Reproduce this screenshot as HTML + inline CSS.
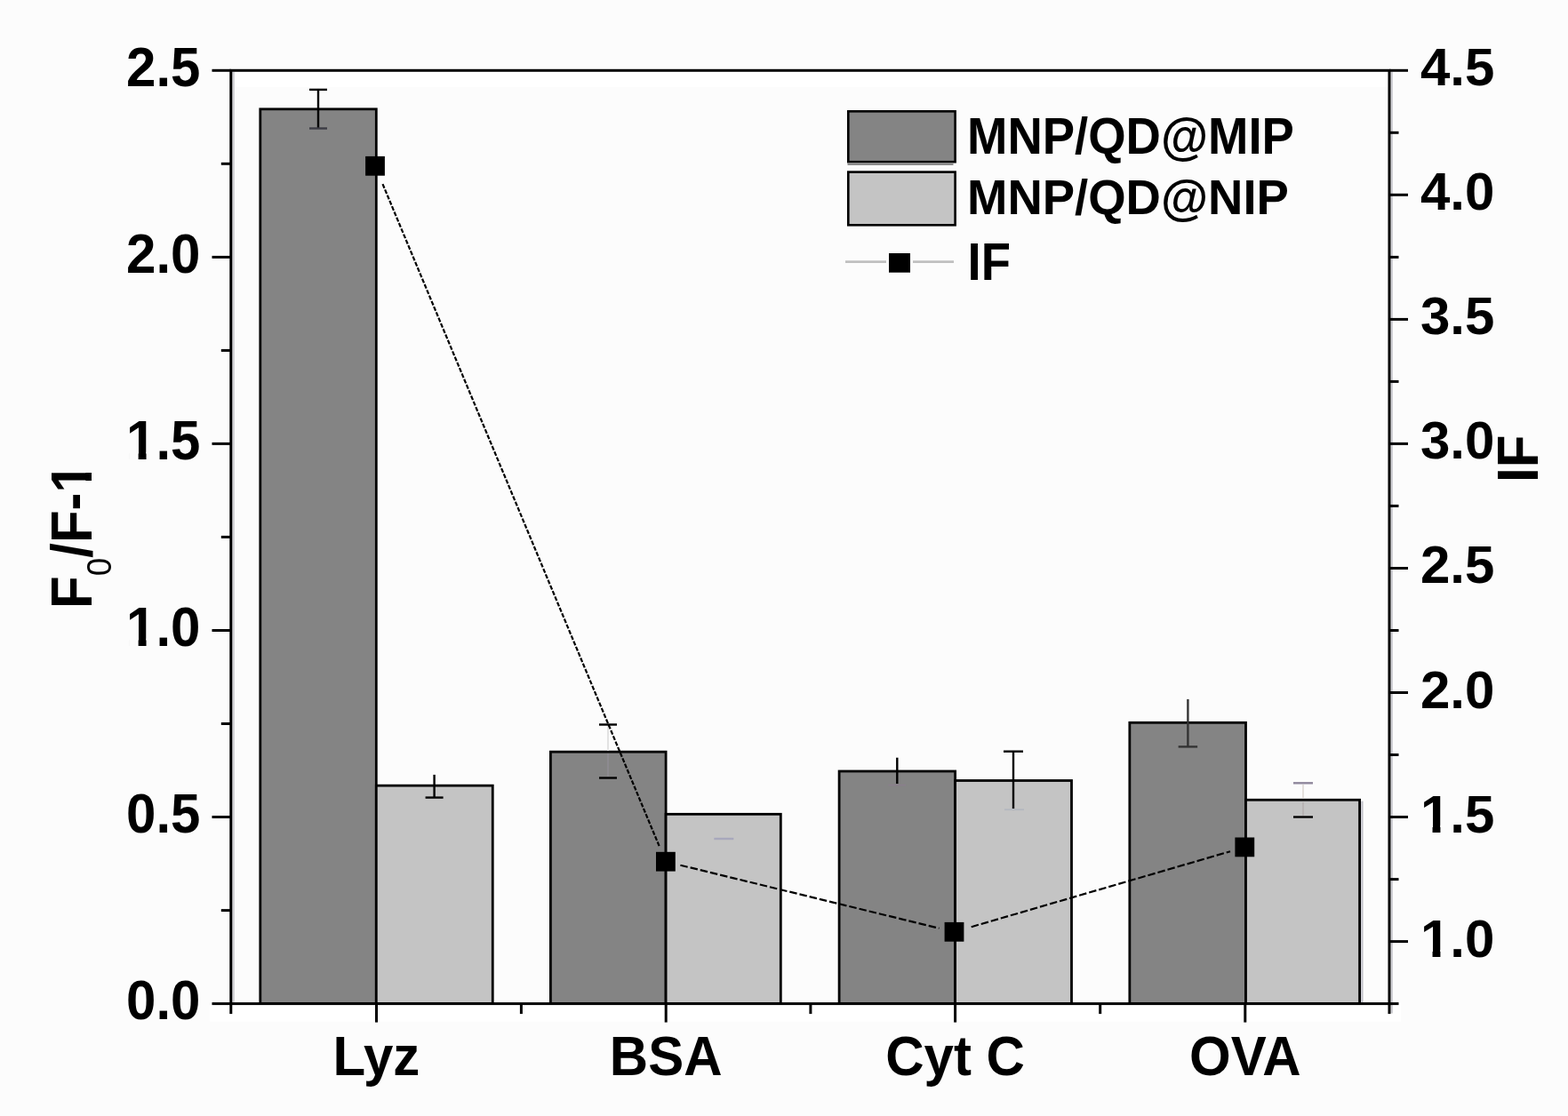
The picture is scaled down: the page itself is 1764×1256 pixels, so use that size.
<!DOCTYPE html>
<html><head><meta charset="utf-8"><title>Chart</title>
<style>html,body{margin:0;padding:0;background:#fff;overflow:hidden}svg{display:block}</style>
</head><body>
<svg width="1764" height="1256" viewBox="0 0 1764 1256"><rect x="0" y="0" width="1764" height="1256" fill="#fcfcfc"/>
<rect x="261" y="81" width="1301" height="17" fill="#ffffff"/>
<rect x="236" y="1131" width="1340" height="18.5" fill="#ffffff"/>
<rect x="292.80" y="122.80" width="130.50" height="1006.80" fill="#848484" stroke="#000" stroke-width="2.8"/>
<rect x="619.40" y="846.15" width="129.70" height="283.45" fill="#848484" stroke="#000" stroke-width="2.8"/>
<rect x="944.10" y="868.00" width="130.50" height="261.60" fill="#848484" stroke="#000" stroke-width="2.8"/>
<rect x="1270.85" y="813.30" width="130.65" height="316.30" fill="#848484" stroke="#000" stroke-width="2.8"/>
<rect x="423.30" y="884.15" width="130.95" height="245.45" fill="#c4c4c4" stroke="#000" stroke-width="2.8"/>
<rect x="749.10" y="916.30" width="129.20" height="213.30" fill="#c4c4c4" stroke="#000" stroke-width="2.8"/>
<rect x="1074.60" y="878.50" width="130.90" height="251.10" fill="#c4c4c4" stroke="#000" stroke-width="2.8"/>
<rect x="1401.50" y="900.25" width="128.10" height="229.35" fill="#c4c4c4" stroke="#000" stroke-width="2.8"/>
<line x1="358.0" y1="100.9" x2="358.0" y2="144.5" stroke="#000" stroke-width="2.4"/><line x1="348.0" y1="100.9" x2="368.0" y2="100.9" stroke="#000" stroke-width="2.4"/><line x1="348.0" y1="144.5" x2="368.0" y2="144.5" stroke="#3c3c44" stroke-width="2.4"/>
<line x1="488.6" y1="871.9" x2="488.6" y2="897.6" stroke="#000" stroke-width="2.4"/><line x1="478.6" y1="897.6" x2="498.6" y2="897.6" stroke="#000" stroke-width="2.4"/>
<line x1="674.0" y1="815.5" x2="694.0" y2="815.5" stroke="#000" stroke-width="2.4"/><line x1="674.0" y1="875.5" x2="694.0" y2="875.5" stroke="#000" stroke-width="2.4"/>
<line x1="684.0" y1="817" x2="684.0" y2="845" stroke="#e2e2e2" stroke-width="2"/>
<line x1="684.0" y1="848" x2="684.0" y2="874" stroke="#8d8a90" stroke-width="2"/>
<line x1="803.3" y1="944.0" x2="825.3" y2="944.0" stroke="#a8a8bc" stroke-width="2.4"/>
<line x1="1009.3" y1="852.7" x2="1009.3" y2="882.0" stroke="#000" stroke-width="2.4"/>
<line x1="999.5" y1="883.6" x2="1019" y2="883.6" stroke="#8a7f8c" stroke-width="1.6"/>
<line x1="1140.0" y1="845.7" x2="1140.0" y2="910.0" stroke="#000" stroke-width="2.4"/><line x1="1129.0" y1="845.7" x2="1151.0" y2="845.7" stroke="#000" stroke-width="2.4"/>
<line x1="1130" y1="911.2" x2="1152" y2="911.2" stroke="#b4b8bf" stroke-width="1.8"/>
<line x1="1336.4" y1="786.9" x2="1336.4" y2="840.4" stroke="#333333" stroke-width="2.4"/><line x1="1325.65" y1="840.4" x2="1347.15" y2="840.4" stroke="#333333" stroke-width="2.4"/>
<line x1="1455.0" y1="881.3" x2="1477.0" y2="881.3" stroke="#8f879c" stroke-width="2.4"/><line x1="1455.0" y1="919.5" x2="1477.0" y2="919.5" stroke="#000" stroke-width="2.4"/>
<line x1="1466" y1="883" x2="1466" y2="898" stroke="#e4e0dc" stroke-width="2"/>
<line x1="1466" y1="903" x2="1466" y2="918" stroke="#b8b4b4" stroke-width="2"/>
<line x1="262.6" y1="80.8" x2="262.6" y2="1128.1" stroke="#d2d2d6" stroke-width="2.6"/>
<line x1="1565.8" y1="80.8" x2="1565.8" y2="1140.6" stroke="#cfcfd4" stroke-width="2.4"/>
<line x1="1532.4" y1="901.65" x2="1532.4" y2="1128.1" stroke="#c4c4cc" stroke-width="2.4"/>
<rect x="259.8" y="79.3" width="1303.2" height="1050.3" fill="none" stroke="#000" stroke-width="3.0"/>
<line x1="238.5" y1="1129.6" x2="259.8" y2="1129.6" stroke="#000" stroke-width="3.0"/><line x1="248.8" y1="1024.6" x2="259.8" y2="1024.6" stroke="#000" stroke-width="3.0"/><line x1="238.5" y1="919.5" x2="259.8" y2="919.5" stroke="#000" stroke-width="3.0"/><line x1="248.8" y1="814.5" x2="259.8" y2="814.5" stroke="#000" stroke-width="3.0"/><line x1="238.5" y1="709.5" x2="259.8" y2="709.5" stroke="#000" stroke-width="3.0"/><line x1="248.8" y1="604.4" x2="259.8" y2="604.4" stroke="#000" stroke-width="3.0"/><line x1="238.5" y1="499.4" x2="259.8" y2="499.4" stroke="#000" stroke-width="3.0"/><line x1="248.8" y1="394.4" x2="259.8" y2="394.4" stroke="#000" stroke-width="3.0"/><line x1="238.5" y1="289.4" x2="259.8" y2="289.4" stroke="#000" stroke-width="3.0"/><line x1="248.8" y1="184.3" x2="259.8" y2="184.3" stroke="#000" stroke-width="3.0"/><line x1="238.5" y1="79.3" x2="259.8" y2="79.3" stroke="#000" stroke-width="3.0"/><line x1="1563.0" y1="1129.6" x2="1573.5" y2="1129.6" stroke="#000" stroke-width="3.0"/><line x1="1563.0" y1="1059.6" x2="1584.0" y2="1059.6" stroke="#000" stroke-width="3.0"/><line x1="1563.0" y1="989.6" x2="1573.5" y2="989.6" stroke="#000" stroke-width="3.0"/><line x1="1563.0" y1="919.5" x2="1584.0" y2="919.5" stroke="#000" stroke-width="3.0"/><line x1="1563.0" y1="849.5" x2="1573.5" y2="849.5" stroke="#000" stroke-width="3.0"/><line x1="1563.0" y1="779.5" x2="1584.0" y2="779.5" stroke="#000" stroke-width="3.0"/><line x1="1563.0" y1="709.5" x2="1573.5" y2="709.5" stroke="#000" stroke-width="3.0"/><line x1="1563.0" y1="639.5" x2="1584.0" y2="639.5" stroke="#000" stroke-width="3.0"/><line x1="1563.0" y1="569.4" x2="1573.5" y2="569.4" stroke="#000" stroke-width="3.0"/><line x1="1563.0" y1="499.4" x2="1584.0" y2="499.4" stroke="#000" stroke-width="3.0"/><line x1="1563.0" y1="429.4" x2="1573.5" y2="429.4" stroke="#000" stroke-width="3.0"/><line x1="1563.0" y1="359.4" x2="1584.0" y2="359.4" stroke="#000" stroke-width="3.0"/><line x1="1563.0" y1="289.4" x2="1573.5" y2="289.4" stroke="#000" stroke-width="3.0"/><line x1="1563.0" y1="219.3" x2="1584.0" y2="219.3" stroke="#000" stroke-width="3.0"/><line x1="1563.0" y1="149.3" x2="1573.5" y2="149.3" stroke="#000" stroke-width="3.0"/><line x1="1563.0" y1="79.3" x2="1584.0" y2="79.3" stroke="#000" stroke-width="3.0"/><line x1="423.5" y1="1129.6" x2="423.5" y2="1150.6" stroke="#000" stroke-width="3.0"/><line x1="749.2" y1="1129.6" x2="749.2" y2="1150.6" stroke="#000" stroke-width="3.0"/><line x1="1074.6" y1="1129.6" x2="1074.6" y2="1150.6" stroke="#000" stroke-width="3.0"/><line x1="1400.8" y1="1129.6" x2="1400.8" y2="1150.6" stroke="#000" stroke-width="3.0"/><line x1="259.8" y1="1129.6" x2="259.8" y2="1141.1" stroke="#000" stroke-width="3.0"/><line x1="586.4" y1="1129.6" x2="586.4" y2="1141.1" stroke="#000" stroke-width="3.0"/><line x1="911.9" y1="1129.6" x2="911.9" y2="1141.1" stroke="#000" stroke-width="3.0"/><line x1="1237.7" y1="1129.6" x2="1237.7" y2="1141.1" stroke="#000" stroke-width="3.0"/><line x1="1563.0" y1="1129.6" x2="1563.0" y2="1141.1" stroke="#000" stroke-width="3.0"/>
<line x1="430.5" y1="207.1" x2="742.0" y2="953.1" stroke="#000" stroke-width="2.2" stroke-dasharray="5 1.8"/>
<line x1="765.4" y1="973.7" x2="1056.5" y2="1044.7" stroke="#000" stroke-width="2.2" stroke-dasharray="8.5 3"/>
<line x1="1092.7" y1="1043.2" x2="1384.0" y2="958.2" stroke="#000" stroke-width="2.2" stroke-dasharray="8.5 3"/>
<rect x="411.1" y="175.9" width="21.8" height="21.8" fill="#000"/>
<rect x="738.0" y="958.8" width="21.8" height="21.8" fill="#000"/>
<rect x="1062.6" y="1037.9" width="21.8" height="21.8" fill="#000"/>
<rect x="1389.4" y="942.5" width="21.8" height="21.8" fill="#000"/>
<g font-family="'Liberation Sans', Arial, Helvetica, sans-serif" font-weight="bold" font-size="60" fill="#000"><text x="142.10" y="1147.00" transform="matrix(1 0 0 1.06 0 -68.820)">0.0</text><text x="142.10" y="936.94" transform="matrix(1 0 0 1.06 0 -56.216)">0.5</text><text x="142.10" y="726.88" clip-path="url(#c1_1)" transform="matrix(1 0 0 1.06 0 -43.613)">1.0</text><text x="142.10" y="516.82" clip-path="url(#c1_2)" transform="matrix(1 0 0 1.06 0 -31.009)">1.5</text><text x="142.10" y="306.76" transform="matrix(1 0 0 1.06 0 -18.406)">2.0</text><text x="142.10" y="96.70" transform="matrix(1 0 0 1.06 0 -5.802)">2.5</text><text x="1598.00" y="1076.58" clip-path="url(#c1_3)">1.0</text><text x="1598.00" y="936.54" clip-path="url(#c1_4)">1.5</text><text x="1598.00" y="796.50">2.0</text><text x="1598.00" y="656.46">2.5</text><text x="1598.00" y="516.42">3.0</text><text x="1598.00" y="376.38">3.5</text><text x="1598.00" y="236.34">4.0</text><text x="1598.00" y="96.30">4.5</text><text x="423.5" y="1210" text-anchor="middle" transform="matrix(1 0 0 1.05 0 -60.500)">Lyz</text><text x="749.2" y="1210" text-anchor="middle" transform="matrix(1 0 0 1.05 0 -60.500)">BSA</text><text x="1074.6" y="1210" text-anchor="middle" transform="matrix(1 0 0 1.05 0 -60.500)">Cyt C</text><text x="1400.8" y="1210" text-anchor="middle" transform="matrix(1 0 0 1.05 0 -60.500)">OVA</text></g>
<g font-family="'Liberation Sans', Arial, Helvetica, sans-serif" font-weight="bold" fill="#000" font-size="60"><g transform="translate(103,685) rotate(-90) scale(1,1.065)"><text x="0" y="0" clip-path="url(#c1_5)">F<tspan font-size="37" font-weight="normal" dy="20.3">0</tspan><tspan dy="-20.3">/F-1</tspan></text></g><g transform="translate(1730,543) rotate(-90) scale(1,1.07)"><text x="0" y="0">IF</text></g></g>
<defs><clipPath id="c1_1" clipPathUnits="userSpaceOnUse"><rect x="-1857.90" y="648.88" width="4000" height="70.32"/><rect x="-1857.90" y="718.20" width="2003.00" height="54.00"/><rect x="155.66" y="718.20" width="8.88" height="30.00"/><rect x="174.80" y="718.20" width="103.40" height="54.00"/></clipPath><clipPath id="c1_2" clipPathUnits="userSpaceOnUse"><rect x="-1857.90" y="438.82" width="4000" height="70.32"/><rect x="-1857.90" y="508.14" width="2003.00" height="54.00"/><rect x="155.66" y="508.14" width="8.88" height="30.00"/><rect x="174.80" y="508.14" width="103.40" height="54.00"/></clipPath><clipPath id="c1_3" clipPathUnits="userSpaceOnUse"><rect x="-402.00" y="998.58" width="4000" height="70.32"/><rect x="-402.00" y="1067.90" width="2003.00" height="54.00"/><rect x="1611.56" y="1067.90" width="8.88" height="30.00"/><rect x="1630.70" y="1067.90" width="103.40" height="54.00"/></clipPath><clipPath id="c1_4" clipPathUnits="userSpaceOnUse"><rect x="-402.00" y="858.54" width="4000" height="70.32"/><rect x="-402.00" y="927.86" width="2003.00" height="54.00"/><rect x="1611.56" y="927.86" width="8.88" height="30.00"/><rect x="1630.70" y="927.86" width="103.40" height="54.00"/></clipPath><clipPath id="c1_5" clipPathUnits="userSpaceOnUse"><rect x="-1869.45" y="-78.00" width="4000" height="70.32"/><rect x="-1869.45" y="-8.68" width="2003.00" height="54.00"/><rect x="144.11" y="-8.68" width="8.88" height="30.00"/><rect x="163.25" y="-8.68" width="60.00" height="54.00"/></clipPath></defs>
<rect x="954.3" y="125.3" width="120.3" height="56.9" fill="#848484" stroke="#000" stroke-width="2.6"/><line x1="953.5" y1="184.8" x2="1072.5" y2="184.8" stroke="#8c8c8c" stroke-width="2.4"/><rect x="954.3" y="193.6" width="120.3" height="59.7" fill="#c4c4c4" stroke="#000" stroke-width="2.6"/><line x1="951" y1="294.6" x2="997" y2="294.6" stroke="#c0c0c0" stroke-width="2.6"/><line x1="1027" y1="294.6" x2="1073" y2="294.6" stroke="#c0c0c0" stroke-width="2.6"/><rect x="1000" y="285" width="24" height="21.7" fill="#000"/><g font-family="'Liberation Sans', Arial, Helvetica, sans-serif" font-weight="bold" font-size="54.5" fill="#000"><text x="1088" y="173" transform="matrix(1 0 0 1.05 0 -8.650)">MNP/QD@MIP</text><text x="1088" y="241.4" transform="matrix(1 0 0 1.03 0 -7.242)">MNP/QD@NIP</text><text x="1088.5" y="314.8" transform="matrix(1 0 0 1.085 0 -26.758)">IF</text></g></svg>
</body></html>
